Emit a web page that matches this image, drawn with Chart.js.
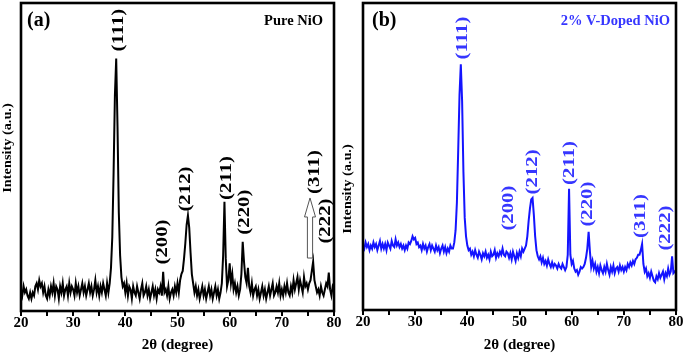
<!DOCTYPE html>
<html>
<head>
<meta charset="utf-8">
<script src="https://cdn.jsdelivr.net/npm/chart.js@4.4.1/dist/chart.umd.min.js"></script>
<style>
  html, body { margin: 0; padding: 0; background: #fff; }
  #wrap { position: relative; width: 685px; height: 354px; overflow: hidden; }
  canvas { position: absolute; top: 0; }
  #cA { left: 0; }
  #cB { left: 342px; }
</style>
</head>
<body>
<div id="wrap">
  <canvas id="cA" width="342" height="354"></canvas>
  <canvas id="cB" width="343" height="354"></canvas>
</div>
<script>
// ---- sampling grid (2θ, degrees) ----
const angleStart = 20;
const angleStep = 0.25;
const xTicksMajor = [20, 30, 40, 50, 60, 70, 80];

// ---- (a) Pure NiO intensity (a.u., 0-100 scale), one value per 0.25° from 20° to 80° ----
const pureNiO = [
  7, 5, 8, 6,        // 20
  7, 5, 4, 6,        // 21
  4, 6, 5, 8,        // 22
  9, 7, 10, 8,       // 23
  9, 6, 8, 5,        // 24
  4, 7, 5, 8,        // 25
  6, 9, 5, 8,        // 26
  7, 4, 8, 6,        // 27
  9, 5, 7, 8,        // 28
  5, 9, 6, 8,        // 29
  7, 5, 9, 6,        // 30
  8, 5, 7, 9,        // 31
  6, 8, 5, 7,        // 32
  9, 6, 8, 5,        // 33
  7, 10, 6, 8,       // 34
  5, 8, 6, 9,        // 35
  7, 5, 9, 6,        // 36
  9, 14, 24, 45,     // 37
  70, 82, 60, 32,    // 38
  18, 11, 8, 9,      // 39
  6, 9, 5, 8,        // 40
  7, 4, 8, 6,        // 41
  5, 8, 6, 4,        // 42
  7, 9, 5, 6,        // 43
  8, 5, 7, 4,        // 44
  6, 8, 5, 7,        // 45
  4, 7, 6, 8,        // 46
  5, 12.7, 6, 7,     // 47
  5, 8, 4, 6,        // 48
  7, 5, 8, 6,        // 49
  9, 6, 10, 12,      // 50
  13, 17, 22, 28,    // 51
  31, 27, 19, 12,    // 52
  9, 6, 8, 5,        // 53
  7, 4, 6, 8,        // 54
  5, 7, 4, 6,        // 55
  8, 5, 7, 4,        // 56
  6, 8, 5, 7,        // 57
  4, 6, 9, 18,       // 58
  35.5, 17, 8, 10,   // 59
  15.5, 9, 12, 7,    // 60
  9, 6, 8, 5,        // 61
  7, 12, 22.5, 16,   // 62
  11, 9, 14, 8,      // 63
  6, 9, 5, 7,        // 64
  8, 5, 7, 4,        // 65
  6, 8, 5, 7,        // 66
  4, 6, 8, 5,        // 67
  7, 9, 5, 6,        // 68
  8, 6, 9, 5,        // 69
  7, 5, 8, 6,        // 70
  9, 6, 5, 8,        // 71
  6, 10, 7, 9,       // 72
  11, 7, 10, 8,      // 73
  6, 11, 8, 9,       // 74
  7, 9, 10, 13,      // 75
  16, 10, 8, 6,      // 76
  7, 5, 8, 6,        // 77
  5, 7, 9, 8,        // 78
  12.5, 7, 5, 8,     // 79
  7                  // 80
];

// ---- (b) 2% V-doped NiO intensity ----
const dopedNiO = [
  21, 20, 22, 20.5,      // 20
  21.5, 19.5, 21, 20,    // 21
  22, 20.5, 21.5, 19.5,  // 22
  21, 22.5, 20, 21.5,    // 23
  20, 21.5, 19.5, 22,    // 24
  21, 20, 22.5, 21,      // 25
  20.5, 23, 21, 22,      // 26
  20.5, 21.5, 20, 21,    // 27
  19.5, 21, 20, 22,      // 28
  21.5, 22.5, 24, 23,    // 29
  23.5, 21.5, 22, 20.5,  // 30
  21, 19.5, 21.5, 20,    // 31
  21, 19, 20.5, 21.5,    // 32
  19.5, 21, 20, 19,      // 33
  21, 19.5, 20.5, 18.5,  // 34
  20, 21, 19, 20.5,      // 35
  18.5, 20, 19, 21,      // 36
  20, 20, 22, 26,        // 37
  35, 52, 70, 80,        // 38
  68, 45, 30, 24,        // 39
  21, 19.5, 20, 18,      // 40
  19, 17.5, 19.5, 18,    // 41
  17, 19, 18, 16.5,      // 42
  18.5, 17.5, 19, 17,    // 43
  18, 16.5, 19, 17.5,    // 44
  18, 19.5, 17, 18.5,    // 45
  17.5, 19, 18, 20,      // 46
  18, 17.5, 19, 18.5,    // 47
  17, 18.5, 16.5, 19,    // 48
  17.5, 16, 18.5, 17,    // 49
  19, 17.5, 20, 19,      // 50
  20, 21, 24, 29,        // 51
  33, 36, 36.5, 31,      // 52
  24, 19.5, 17.5, 16.5,  // 53
  17.5, 15.5, 17, 15,    // 54
  16, 14.5, 16.5, 15,    // 55
  14, 15.5, 14, 15,      // 56
  14.5, 13.5, 15, 14,    // 57
  13.5, 15, 14, 13,      // 58
  14, 18, 39.5, 18,      // 59
  15, 16, 13.5, 12.5,    // 60
  13, 11.5, 12.5, 14,    // 61
  13.5, 14, 15, 17,      // 62
  20, 25.5, 19, 14,      // 63
  16, 13.5, 15, 12.5,    // 64
  14, 12, 14.5, 13,      // 65
  12, 14, 12.5, 15,      // 66
  13, 11.5, 14, 12.5,    // 67
  14.5, 12, 13.5, 14,    // 68
  12.5, 14.5, 13, 14,    // 69
  12.5, 14, 13, 15,      // 70
  14, 15.5, 14.5, 16,    // 71
  15, 16.5, 17, 18,      // 72
  18, 19.5, 21.5, 15,    // 73
  12.5, 13.5, 11, 12,    // 74
  10.5, 12.5, 11, 9.5,   // 75
  9, 11, 10, 12,         // 76
  10.5, 11.5, 12.5, 10,  // 77
  12, 11, 13.5, 11.5,    // 78
  12.5, 17.5, 12, 12.5,  // 79
  12                     // 80
];

// ---- peak labels ----
const peakLabels = ['(111)', '(200)', '(212)', '(211)', '(220)', '(311)', '(222)'];
const pureLabelAngles  = [38.6, 47.2, 51.6, 59.3, 62.9, 76.2, 78.3];
const pureLabelLevels  = [91.2, 22.4, 39.6, 43.2, 32.1, 45.1, 29.2];
const dopedLabelAngles = [39.0, 47.8, 52.4, 59.5, 63.1, 73.1, 77.9];
const dopedLabelLevels = [88.6, 33.2, 45.0, 47.9, 34.5, 30.6, 26.7];

// arrow in panel (a)
const arrowAngle = 75.4, arrowBase = 17.2, arrowTip = 36.7;

const SERIF = '"Liberation Serif", "Times New Roman", serif';
const BLUE_LINE = '#1414ff';
const BLUE_TEXT = '#3636ff';

function toPoints(vals) {
  return vals.map((v, i) => ({ x: angleStart + i * angleStep, y: v }));
}

function makePlugin(cfg) {
  return {
    id: 'decor',
    afterDraw(chart) {
      const { ctx, chartArea: a, scales: { x, y } } = chart;
      ctx.save();
      // frame
      ctx.strokeStyle = '#000';
      ctx.lineWidth = 2.6;
      ctx.strokeRect(a.left, a.top, a.right - a.left, a.bottom - a.top);

      // peak labels
      ctx.fillStyle = cfg.labelColor;
      ctx.textAlign = 'center';
      ctx.textBaseline = 'middle';
      ctx.font = 'bold 20px ' + SERIF;
      peakLabels.forEach((t, i) => {
        const px = x.getPixelForValue(cfg.angles[i]);
        const py = y.getPixelForValue(cfg.levels[i]);
        ctx.save();
        ctx.translate(px, py);
        ctx.rotate(-Math.PI / 2);
        ctx.scale(1.04, 0.88);
        ctx.fillText(t, 0, 0);
        ctx.restore();
      });

      // panel letter
      ctx.fillStyle = '#000';
      ctx.font = 'bold 20px ' + SERIF;
      ctx.textAlign = 'left';
      ctx.fillText(cfg.letter, a.left + cfg.letterDx, a.top + 18);

      // sample name
      ctx.fillStyle = cfg.nameColor;
      ctx.font = 'bold 14.5px ' + SERIF;
      ctx.textAlign = 'right';
      ctx.fillText(cfg.name, a.right - cfg.nameDx, a.top + 18);

      // y title
      ctx.fillStyle = '#000';
      ctx.font = 'bold 13px ' + SERIF;
      ctx.textAlign = 'center';
      ctx.save();
      ctx.translate(a.left - cfg.yTitleDx, cfg.yTitleY);
      ctx.rotate(-Math.PI / 2);
      ctx.scale(1.1, 1);
      ctx.fillText('Intensity (a.u.)', 0, 0);
      ctx.restore();

      // arrow
      if (cfg.arrow) {
        const ax = x.getPixelForValue(arrowAngle);
        const yb = y.getPixelForValue(arrowBase);
        const yt = y.getPixelForValue(arrowTip);
        const sw = 2.6, hw = 5.5, hl = 19;
        ctx.beginPath();
        ctx.moveTo(ax - sw, yb);
        ctx.lineTo(ax - sw, yt + hl);
        ctx.lineTo(ax - hw, yt + hl);
        ctx.lineTo(ax, yt);
        ctx.lineTo(ax + hw, yt + hl);
        ctx.lineTo(ax + sw, yt + hl);
        ctx.lineTo(ax + sw, yb);
        ctx.closePath();
        ctx.fillStyle = '#fff';
        ctx.fill();
        ctx.strokeStyle = '#555';
        ctx.lineWidth = 1;
        ctx.stroke();
      }
      ctx.restore();
    }
  };
}

function makeChart(id, vals, color, pad, axisH, cfg) {
  return new Chart(document.getElementById(id), {
    type: 'line',
    data: {
      datasets: [{
        data: toPoints(vals),
        borderColor: color,
        borderWidth: 2,
        pointRadius: 0,
        tension: 0,
        fill: false
      }]
    },
    options: {
      responsive: false,
      animation: false,
      events: [],
      layout: { padding: pad },
      plugins: { legend: { display: false }, tooltip: { enabled: false } },
      scales: {
        x: {
          type: 'linear',
          min: 20,
          max: 80,
          afterFit: s => { s.height = axisH; },
          border: { display: false },
          grid: {
            drawOnChartArea: false,
            drawTicks: true,
            tickLength: 5,
            color: '#000',
            lineWidth: 2
          },
          ticks: {
            stepSize: 5,
            autoSkip: false,
            maxRotation: 0,
            padding: -2,
            color: '#000',
            font: { family: SERIF, size: 15, weight: 'bold' },
            callback: v => (xTicksMajor.includes(v) ? String(v) : '')
          },
          title: {
            display: true,
            text: '2θ (degree)',
            color: '#000',
            padding: { top: 0, bottom: 0 },
            font: { family: SERIF, size: 15, weight: 'bold' }
          }
        },
        y: { display: false, min: 0, max: 100 }
      }
    },
    plugins: [makePlugin(cfg)]
  });
}

makeChart('cA', pureNiO, '#000', { left: 21, right: 8, top: 3, bottom: 0 }, 43, {
  angles: pureLabelAngles, levels: pureLabelLevels, labelColor: '#000',
  letter: '(a)', letterDx: 6, name: 'Pure NiO', nameColor: '#000', nameDx: 11,
  yTitleDx: 13, yTitleY: 148, arrow: true
});
makeChart('cB', dopedNiO, BLUE_LINE, { left: 21, right: 9, top: 3, bottom: 0 }, 44, {
  angles: dopedLabelAngles, levels: dopedLabelLevels, labelColor: BLUE_TEXT,
  letter: '(b)', letterDx: 9, name: '2% V-Doped NiO', nameColor: BLUE_TEXT, nameDx: 6,
  yTitleDx: 15, yTitleY: 189, arrow: false
});
</script>
</body>
</html>
